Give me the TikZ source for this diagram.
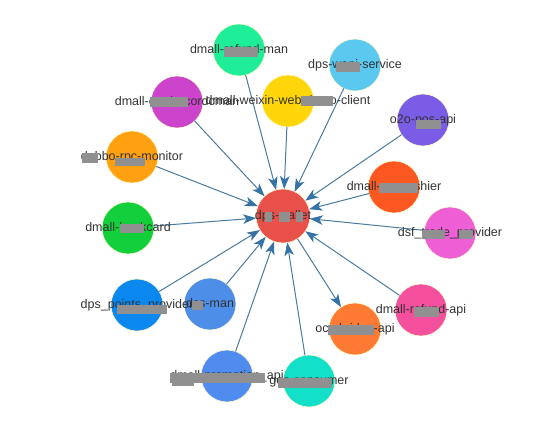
\documentclass[tikz,border=0pt]{standalone}
\usepackage{fontspec}
\setmainfont{Liberation Sans}
\usetikzlibrary{arrows.meta}
\definecolor{txt}{HTML}{333333}
\definecolor{edgec}{HTML}{4A7BA0}
\definecolor{tipc}{HTML}{3572A5}
\definecolor{barc}{HTML}{909090}
\definecolor{cRed}{HTML}{E8504A}
\definecolor{cSpring}{HTML}{1EEE98}
\definecolor{cMagenta}{HTML}{CC44CC}
\definecolor{cGold}{HTML}{FFD60A}
\definecolor{cSky}{HTML}{5BC8F0}
\definecolor{cPurple}{HTML}{7B5CE6}
\definecolor{cOrRed}{HTML}{FF5722}
\definecolor{cOrchid}{HTML}{EE5FD5}
\definecolor{cPink}{HTML}{F5509E}
\definecolor{cOrange}{HTML}{FF7A33}
\definecolor{cTeal}{HTML}{12E0C8}
\definecolor{cBlueA}{HTML}{508CF0}
\definecolor{cBlueB}{HTML}{4D8EE8}
\definecolor{cBlueC}{HTML}{0A88F0}
\definecolor{cGreen}{HTML}{12D03C}
\definecolor{cAmber}{HTML}{FFA010}
\begin{document}
\begin{tikzpicture}[x=1pt,y=-1pt,
  ball/.style={circle, minimum size=52pt, inner sep=0pt, outer sep=0pt, fill=#1, draw=white!80!yellow, line width=0.6pt},
  lbl/.style={font=\fontsize{12.5}{14}\selectfont, text=txt, inner sep=0pt, text height=9pt, text depth=2.5pt},
  edge/.style={draw=edgec, line width=1pt, -{Stealth[length=13pt,width=9.5pt,inset=3.5pt,fill=tipc,color=tipc]}},
  bar/.style={fill=barc}]
\fill[white] (0,0) rectangle (555,423);
\useasboundingbox (0,0) rectangle (555,423);
% circles
\node[ball=cRed, minimum size=54pt] (c) at (283,216) {};
\node[ball=cSpring] (n1) at (239,50) {};
\node[ball=cMagenta] (n2) at (177,102) {};
\node[ball=cGold] (n3) at (288,101) {};
\node[ball=cSky] (n4) at (355,65) {};
\node[ball=cPurple] (n5) at (423,120) {};
\node[ball=cOrRed] (n6) at (394,187) {};
\node[ball=cOrchid] (n7) at (450,233) {};
\node[ball=cPink] (n8) at (421,310) {};
\node[ball=cOrange] (n9) at (355,329) {};
\node[ball=cTeal] (n10) at (309,381) {};
\node[ball=cBlueA] (n11) at (227,376) {};
\node[ball=cBlueC] (n12) at (137,305) {};
\node[ball=cBlueB] (n13) at (210,304) {};
\node[ball=cGreen] (n14) at (128,228) {};
\node[ball=cAmber] (n15) at (132,157) {};
% edges
\foreach \n in {n1,n2,n3,n4,n5,n6,n7,n8,n10,n11,n12,n13,n14,n15}
  \draw[edge] (\n) -- (c);
\draw[edge] (c) -- (n9);
% labels
\node[lbl] (t0) at (c) {dps-wallet};
\node[lbl] (t1) at (n1) {dmall-refund-man};
\node[lbl] (t2) at (n2) {dmall-cardrecordcman};
\node[lbl] (t3) at (n3) {dmall-weixin-web-demo-client};
\node[lbl] (t4) at (n4) {dps-wapi-service};
\node[lbl] (t5) at (n5) {o2o-pos-api};
\node[lbl] (t6) at (n6) {dmall-poscashier};
\node[lbl] (t7) at (n7) {dsf\_trade\_provider};
\node[lbl] (t8) at (n8) {dmall-refund-api};
\node[lbl] (t9) at (n9) {ocs-bridge-api};
\node[lbl] (t10) at (n10) {gos-consumer};
\node[lbl] (t11) at (n11) {dmall-promotion\_api};
\node[lbl] (t12) at (n12) {dps\_points\_provider};
\node[lbl] (t13) at (n13) {dcs-man};
\node[lbl] (t14) at (n14) {dmall-bankcard};
\node[lbl] (t15) at (n15) {dubbo-rpc-monitor};
% redaction bars
\fill[bar] (265,212) rectangle (272,222);
\fill[bar] (279,212) rectangle (290,222);
\fill[bar] (296,212) rectangle (303,222);
\fill[bar] (224,47) rectangle (258,57);
\fill[bar] (150,97) rectangle (188,107);
\fill[bar] (301,96) rectangle (333,106);
\fill[bar] (336,62) rectangle (360,72);
\fill[bar] (416,120) rectangle (441,129);
\fill[bar] (379,183) rectangle (418,193);
\fill[bar] (422,230) rectangle (445,239);
\fill[bar] (459,230) rectangle (473,239);
\fill[bar] (414,307) rectangle (439,317);
\fill[bar] (328,325) rectangle (374,335);
\fill[bar] (278,378) rectangle (332,388);
\fill[bar] (170,373) rectangle (265,383);
\fill[bar] (172,380) rectangle (194,386);
\fill[bar] (117,305) rectangle (167,314);
\fill[bar] (192,301) rectangle (203,310);
\fill[bar] (120,224) rectangle (144,233);
\fill[bar] (82,153) rectangle (98,163);
\fill[bar] (115,158) rectangle (145,166);
\end{tikzpicture}
\end{document}
